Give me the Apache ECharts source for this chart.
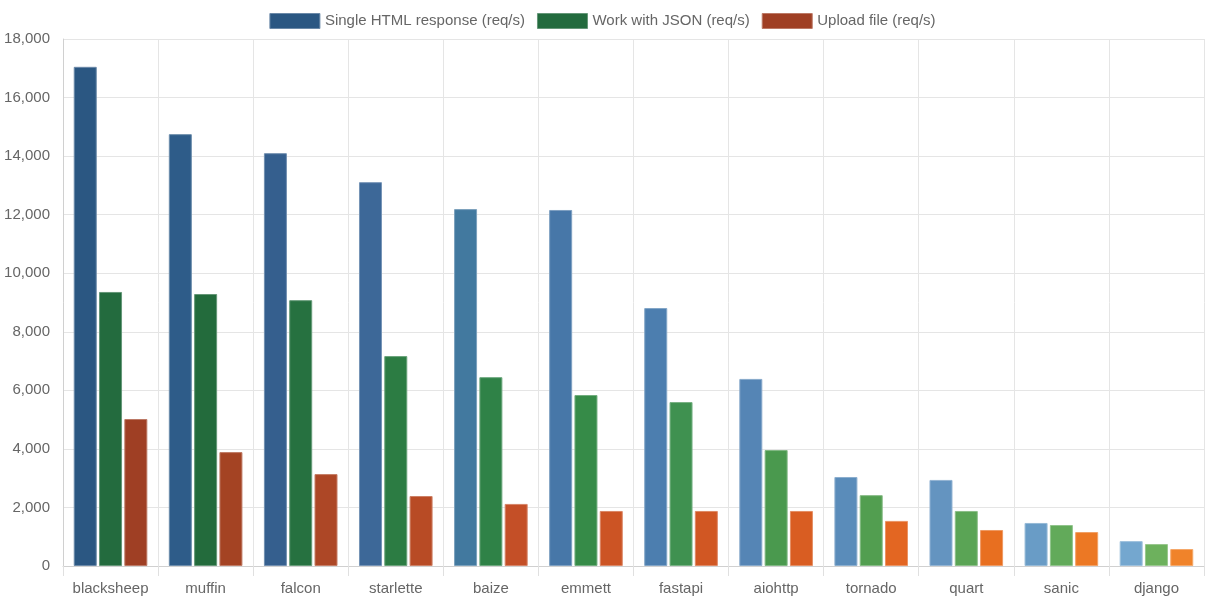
<!DOCTYPE html>
<html>
<head>
<meta charset="utf-8">
<script src="https://cdn.jsdelivr.net/npm/echarts@6/dist/echarts.min.js"></script>
<style>html,body{margin:0;padding:0;background:#fff}#c{width:1205px;height:602px}</style>
</head>
<body>
<div id="c"></div>
<script>
const categories = ['blacksheep','muffin','falcon','starlette','baize','emmett','fastapi','aiohttp','tornado','quart','sanic','django'];
const seriesNames = ['Single HTML response (req/s)','Work with JSON (req/s)','Upload file (req/s)'];
const htmlValues = [17050,14750,14100,13110,12190,12160,8810,6390,3040,2940,1470,850];
const jsonValues = [9360,9290,9080,7170,6450,5840,5600,3960,2420,1880,1400,750];
const uploadValues = [5020,3890,3140,2390,2120,1880,1880,1880,1540,1230,1160,580];
const yTicks = {min:0, max:18000, interval:2000};

const blueShades = ['#2b5782','#2e5c89','#355f8e','#3d6898','#42799f','#4777a8','#4c7eaf','#5585b5','#5a8cba','#6494c0','#699cc6','#74a7cf'];
const greenShades = ['#236b3e','#236b3c','#267140','#2c7c43','#2f8247','#368b48','#3f9150','#4a994e','#529e50','#5aa455','#62aa5a','#6db15d'];
const orangeShades = ['#9f3f24','#a44323','#ad4726','#b84b25','#c44f27','#cc5424','#d15723','#d95d22','#e36622','#e86f20','#ec7824','#f0832a'];

function lighten(hex, f){
  const n=parseInt(hex.slice(1),16);
  const r=(n>>16)&255,g=(n>>8)&255,b=n&255;
  const l=c=>Math.round(c+(255-c)*f);
  return 'rgb('+l(r)+','+l(g)+','+l(b)+')';
}
function mk(name, values, shades){
  return {
    name:name, type:'bar', barWidth:23, barGap:'10%',
    itemStyle:{color:shades[0]},
    data: values.map((v,i)=>({value:v,itemStyle:{color:shades[i],borderColor:lighten(shades[i],0.3),borderWidth:1}})),
    emphasis:{disabled:true}
  };
}
const allShades=[blueShades,greenShades,orangeShades];
const chart = echarts.init(document.getElementById('c'));
chart.setOption({
  animation:false,
  textStyle:{fontFamily:'Liberation Sans, Arial, sans-serif'},
  legend:{
    top:8, left:'center', itemWidth:50, itemHeight:15, itemGap:12,
    textStyle:{color:'#666',fontSize:15,fontFamily:'Liberation Sans'},
    data:seriesNames.map((n,i)=>({name:n,itemStyle:{color:allShades[i][0],borderColor:lighten(allShades[i][0],0.3),borderWidth:1}})),
    icon:'rect'
  },
  grid:{left:63,right:1,top:39,bottom:36,containLabel:false},
  xAxis:{
    type:'category', data:categories, boundaryGap:true,
    axisLine:{show:true,lineStyle:{color:'#d0d0d0'}},
    axisTick:{show:true,length:10,interval:0,lineStyle:{color:'#e0e0e0'}},
    splitLine:{show:true,interval:0,lineStyle:{color:'#e5e5e5'}},
    axisLabel:{color:'#666',fontSize:15,margin:15,interval:0,fontFamily:'Liberation Sans'}
  },
  yAxis:{
    type:'value', min:yTicks.min, max:yTicks.max, interval:yTicks.interval,
    axisLine:{show:true,lineStyle:{color:'#d0d0d0'}},
    axisTick:{show:false},
    splitLine:{show:true,lineStyle:{color:'#e5e5e5'}},
    axisLabel:{color:'#666',fontSize:15,margin:13,fontFamily:'Liberation Sans',formatter:v=>v.toLocaleString('en-US')}
  },
  series:[mk(seriesNames[0],htmlValues,blueShades),mk(seriesNames[1],jsonValues,greenShades),mk(seriesNames[2],uploadValues,orangeShades)]
});
</script>
</body>
</html>
